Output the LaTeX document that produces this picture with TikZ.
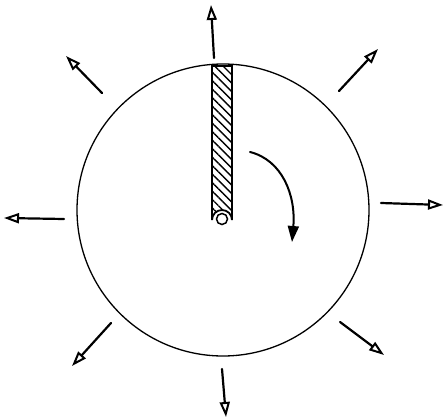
\documentclass[tikz,border=0pt]{standalone}
\usetikzlibrary{arrows.meta,patterns.meta}
\begin{document}
\begin{tikzpicture}[x=1pt,y=-1pt,line cap=round]
  \tikzstyle{ray}=[-{Triangle[open,length=15pt,width=10pt,line width=2pt]},line width=2.2pt]
  \tikzstyle{turn}=[-{Triangle[length=16pt,width=11pt]},line width=2pt]
  \useasboundingbox (0,0) rectangle (445,420);
  % Disk
  \node[circle,draw,line width=1.3pt,minimum size=292pt,inner sep=0pt] (disk) at (223,210) {};
  % Rod
  \draw[line width=1.8pt,pattern={Lines[angle=-45,distance=6pt,line width=1.4pt]}]
    (212,66) -- (212,220) arc[start angle=180,end angle=360,radius=10] -- (232,66) -- cycle;
  \node[circle,draw,line width=1.5pt,minimum size=11pt,inner sep=0pt] (pivot) at (222,219) {};
  % Rotation
  \coordinate (t1) at (250,152);
  \coordinate (t2) at (292,242);
  \draw[turn] (t1) .. controls (282,160) and (296,195) .. (t2);
  % Rays
  \foreach \xa/\ya/\xb/\yb in {214/58/211/5, 339/91/378/49, 381/203/443/205, 340/322/384/355,
      222/369/226/417, 111/323/72/366, 64/219/4/218, 102/93/66/56}
    \draw[ray] (\xa,\ya) coordinate (r1) -- (\xb,\yb) coordinate (r2);
\end{tikzpicture}
\end{document}
